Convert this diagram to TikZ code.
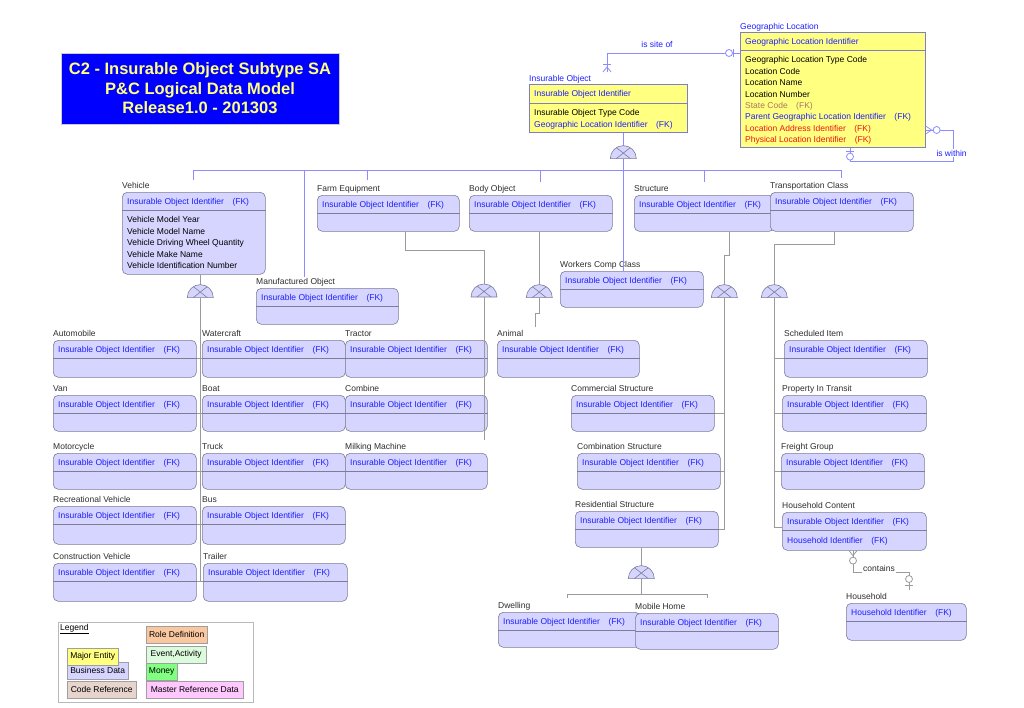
\documentclass[tikz,border=0pt]{standalone}
\usepackage{fontspec}
\setmainfont{Liberation Sans}
\usetikzlibrary{calc,positioning}

\definecolor{entfill}{RGB}{213,213,255}
\definecolor{entline}{RGB}{125,125,150}
\definecolor{yfill}{RGB}{255,255,128}
\definecolor{yline}{RGB}{125,125,200}
\definecolor{keyblue}{RGB}{30,30,255}
\definecolor{isablue}{RGB}{140,140,255}
\definecolor{gengray}{RGB}{155,155,155}
\definecolor{namegray}{RGB}{45,45,45}
\definecolor{titleblue}{RGB}{0,0,255}
\definecolor{titleyellow}{RGB}{255,255,128}
\definecolor{statebrown}{RGB}{170,120,95}
\definecolor{addrred}{RGB}{240,20,20}
\definecolor{codefill}{RGB}{230,212,205}
\definecolor{rolefill}{RGB}{250,200,160}
\definecolor{eventfill}{RGB}{220,250,220}
\definecolor{moneyfill}{RGB}{128,255,128}
\definecolor{masterfill}{RGB}{255,200,255}

\newcommand{\iok}{Insurable Object Identifier\quad(FK)}
% entity box: id, x, y, width, height, title, key
\newcommand{\ent}[7]{%
  \node[ebox, minimum width=#4pt, minimum height=#5pt] (#1) at (#2,#3) {};
  \node[ename] (#1-name) at ([yshift=3.5pt]#1.north west) {#6};
  \draw[ediv] ([yshift=-18pt]#1.north west) -- ([yshift=-18pt]#1.north east);
  \node[ekey] (#1-key) at ([xshift=5pt,yshift=-10pt]#1.north west) {#7};
}

\begin{document}
\begin{tikzpicture}[x=1pt, y=-1pt, font=\fontsize{8.5}{11.4}\selectfont,
    ebox/.style={draw=entline, fill=entfill, rounded corners=5pt, anchor=north west,
                 inner sep=0pt, line width=0.6pt},
    ybox/.style={draw=yline, fill=yfill, anchor=north west, inner sep=0pt, line width=0.6pt},
    ename/.style={anchor=base west, inner sep=0pt, text=namegray},
    ediv/.style={draw=entline, line width=0.6pt},
    ekey/.style={anchor=west, inner sep=0pt, text=keyblue},
    ebody/.style={anchor=north west, inner sep=0pt, align=left, text=black},
    isa/.style={draw=isablue, line width=0.8pt},
    gen/.style={draw=gengray, line width=0.8pt},
    rel/.style={draw=isablue, line width=0.8pt},
    rlabel/.style={inner sep=1pt, fill=white, text=keyblue},
    symb/.style={draw=entline, fill=entfill, line width=0.6pt},
    subsym/.pic={\draw[symb] (-13,0) arc[start angle=180, end angle=0, radius=13pt] -- cycle;
                 \draw[entline, line width=0.6pt] (-7,0) -- (7,-11) (7,0) -- (-7,-11);},
    titlebox/.style={fill=titleblue, draw=gray!40, text=titleyellow, align=center,
                     font=\fontsize{16.5}{19.5}\selectfont\bfseries,
                     minimum width=278pt, minimum height=71pt, inner sep=0pt},
    legframe/.style={draw=gray!55, anchor=north west, inner sep=0pt, line width=0.6pt},
    legkey/.style={draw=gray!75, anchor=north west, inner sep=1pt, minimum height=17pt, text=black}]
  \useasboundingbox (0,0) rectangle (1024,707);

  % title
  \node[titlebox] (title) at (200,88.5) {C2 - Insurable Object Subtype SA\\P\&C Logical Data Model\\Release1.0 - 201303};

  % major entities
  \node[ybox, minimum width=185pt, minimum height=115pt] (geo) at (740,32) {};
  \node[ename, text=keyblue] (geo-name) at ([yshift=3pt]geo.north west) {Geographic Location};
  \draw[ediv, draw=yline] ([yshift=-18pt]geo.north west) -- ([yshift=-18pt]geo.north east);
  \node[ekey] (geo-key) at ([xshift=5pt,yshift=-10pt]geo.north west) {Geographic Location Identifier};
  \node[ebody] (geo-body) at ([xshift=5pt,yshift=-24.5pt]geo.north west)
    {Geographic Location Type Code\\Location Code\\Location Name\\Location Number\\
     \textcolor{statebrown}{State Code\quad(FK)}\\
     \textcolor{keyblue}{Parent Geographic Location Identifier\quad(FK)}\\
     \textcolor{addrred}{Location Address Identifier\quad(FK)}\\
     \textcolor{addrred}{Physical Location Identifier\quad(FK)}};

  \node[ybox, minimum width=158pt, minimum height=48pt] (io) at (529,84) {};
  \node[ename, text=keyblue] (io-name) at ([yshift=3pt]io.north west) {Insurable Object};
  \draw[ediv, draw=yline] ([yshift=-19pt]io.north west) -- ([yshift=-19pt]io.north east);
  \node[ekey] (io-key) at ([xshift=5pt,yshift=-10pt]io.north west) {Insurable Object Identifier};
  \node[ebody] (io-body) at ([xshift=5pt,yshift=-25.5pt]io.north west)
    {Insurable Object Type Code\\\textcolor{keyblue}{Geographic Location Identifier\quad(FK)}};

  % first level subtypes
  \ent{veh}{122}{192}{143}{82}{Vehicle}{\iok}
  \node[ebody] (veh-body) at ([xshift=5pt,yshift=-24.5pt]veh.north west)
    {Vehicle Model Year\\Vehicle Model Name\\Vehicle Driving Wheel Quantity\\Vehicle Make Name\\Vehicle Identification Number};
  \ent{farm}{317}{195}{142}{36}{Farm Equipment}{\iok}
  \ent{body}{469}{195}{143}{36}{Body Object}{\iok}
  \ent{struct}{634}{195}{140}{36}{Structure}{\iok}
  \ent{trans}{770}{192}{143}{39}{Transportation Class}{\iok}
  \ent{manuf}{256}{288}{142}{36}{Manufactured Object}{\iok}
  \ent{wcc}{560}{271}{143}{36}{Workers Comp Class}{\iok}

  % vehicle subtypes
  \ent{auto}{53}{340}{143}{37}{Automobile}{\iok}
  \ent{van}{53}{395}{143}{36}{Van}{\iok}
  \ent{moto}{53}{453}{143}{36}{Motorcycle}{\iok}
  \ent{rv}{53}{506}{143}{38}{Recreational Vehicle}{\iok}
  \ent{cv}{53}{563}{143}{38}{Construction Vehicle}{\iok}
  \ent{water}{202}{340}{143}{37}{Watercraft}{\iok}
  \ent{boat}{202}{395}{143}{36}{Boat}{\iok}
  \ent{truck}{202}{453}{143}{36}{Truck}{\iok}
  \ent{bus}{202}{506}{143}{38}{Bus}{\iok}
  \ent{trailer}{203}{563}{144}{38}{Trailer}{\iok}

  % farm equipment subtypes
  \ent{tractor}{345}{340}{142}{37}{Tractor}{\iok}
  \ent{combine}{345}{395}{142}{36}{Combine}{\iok}
  \ent{milk}{345}{453}{142}{36}{Milking Machine}{\iok}

  % body object, structure, transportation subtypes
  \ent{animal}{497}{340}{142}{37}{Animal}{\iok}
  \ent{comm}{571}{395}{143}{36}{Commercial Structure}{\iok}
  \ent{combi}{577}{453}{143}{36}{Combination Structure}{\iok}
  \ent{resid}{575}{511}{143}{36}{Residential Structure}{\iok}
  \ent{sched}{784}{340}{143}{37}{Scheduled Item}{\iok}
  \ent{pit}{782}{395}{144}{36}{Property In Transit}{\iok}
  \ent{freight}{781}{453}{143}{36}{Freight Group}{\iok}
  \ent{hhc}{782}{512}{144}{38}{Household Content}{\iok}
  \node[ekey] (hhc-key2) at ([xshift=5pt,yshift=-29pt]hhc.north west) {Household Identifier\quad(FK)};
  \ent{dwell}{498}{612}{142}{35}{Dwelling}{\iok}
  \ent{mobile}{635}{613}{143}{36}{Mobile Home}{\iok}
  \ent{hh}{846}{603}{120}{37}{Household}{Household Identifier\quad(FK)}

  % insurable object hierarchy
  \coordinate (iosym) at ($(io.south)+(15,26)$);
  \coordinate (iobus) at ($(iosym)+(0,12)$);
  \draw[isa] (io.south -| iosym) -- ++(0,13);
  \draw[isa] (iosym) -- (wcc.north -| iosym);
  \draw[isa] ($(veh.north)+(0,-12)$) |- (trans.north |- iobus) -- ($(trans.north)+(0,-14)$);
  \draw[isa] ([xshift=-23pt]manuf.north |- iobus) -- ($(manuf.north)+(-23,-11)$);
  \draw[isa] ([xshift=-21pt]farm.north |- iobus) -- ($(farm.north)+(-21,-15)$);
  \draw[isa] (body.north |- iobus) -- ($(body.north)+(0,-13)$);
  \draw[isa] (struct.north |- iobus) -- ($(struct.north)+(0,-13)$);
  \pic at (iosym) {subsym};

  % vehicle
  \coordinate (vehsym) at ($(veh.south)+(6.5,23)$);
  \draw[gen] (veh.south -| vehsym) -- ++(0,10);
  \draw[gen] (vehsym) -- ($(vehsym |- cv.north)+(0,18)$);
  \draw[gen] ($(auto.north east)+(0,18)$) -- ($(water.north west)+(0,18)$);
  \draw[gen] ($(van.north east)+(0,18)$) -- ($(boat.north west)+(0,18)$);
  \draw[gen] ($(moto.north east)+(0,18)$) -- ($(truck.north west)+(0,18)$);
  \draw[gen] ($(rv.north east)+(0,18)$) -- ($(bus.north west)+(0,18)$);
  \draw[gen] ($(cv.north east)+(0,18)$) -- ($(trailer.north west)+(0,18)$);
  \pic at (vehsym) {subsym};

  % farm equipment
  \coordinate (farmsym) at ($(farm.north west)+(167,102)$);
  \draw[gen] ($(farm.south)+(17,0)$) -- ++(0,19) -| ($(farmsym)+(0,-13)$);
  \draw[gen] (farmsym) -- ($(farmsym |- combine.north)+(0,45)$);
  \pic at (farmsym) {subsym};

  % body object
  \coordinate (bodysym) at ($(body.south)+(-1.5,66)$);
  \draw[gen] (body.south -| bodysym) -- ++(0,53);
  \draw[gen] (bodysym) -- ++(0,16) -| ($(animal.north west)+(38,-13)$);
  \pic at (bodysym) {subsym};

  % structure
  \coordinate (structsym) at ($(struct.south)+(20,66)$);
  \draw[gen] ($(struct.south)+(25,0)$) -- ++(0,24) -| ($(structsym)+(0,-13)$);
  \draw[gen] (structsym) |- ($(resid.north east)+(0,18)$);
  \draw[gen] ($(comm.north east)+(0,18)$) -| (structsym);
  \draw[gen] ($(combi.north east)+(0,18)$) -| (structsym);
  \pic at (structsym) {subsym};

  % transportation class
  \coordinate (transsym) at ($(trans.south)+(-67.5,66)$);
  \draw[gen] ($(trans.south)+(-7.5,0)$) -- ++(0,13) -| ($(transsym)+(0,-13)$);
  \draw[gen] (transsym) |- ($(hhc.north west)+(0,15)$);
  \draw[gen] ($(sched.north west)+(0,18)$) -| (transsym);
  \draw[gen] ($(pit.north west)+(0,18)$) -| (transsym);
  \draw[gen] ($(freight.north west)+(0,18)$) -| (transsym);
  \pic at (transsym) {subsym};

  % residential structure
  \coordinate (residsym) at ($(resid.south)+(-5.5,31)$);
  \draw[gen] (resid.south -| residsym) -- ++(0,18);
  \draw[gen] (residsym) -- ++(0,16);
  \draw[gen] ($(dwell.north west)+(69,-14)$) |- ($(mobile.north west)+(72,-19)$) -- ($(mobile.north west)+(72,-15)$);
  \pic at (residsym) {subsym};

  % is site of
  \coordinate (siteio) at ($(io.north west)+(78,-12)$);
  \coordinate (sitegeo) at ($(geo.north west)+(0,21)$);
  \draw[rel] (sitegeo) -| (siteio);
  \draw[rel] ([xshift=-4pt]siteio) -- ++(4,-5) -- ++(4,5);
  \draw[rel] ($(siteio)+(-4,-8)$) -- ++(8,0);
  \draw[rel, fill=white] ($(sitegeo)+(-11,0)$) circle[radius=3.5pt];
  \draw[rel] ($(sitegeo)+(-7,-4)$) -- ++(0,8);
  \node[rlabel] (site-label) at ($(sitegeo)+(-83,-9)$) {is site of};

  % is within
  \coordinate (wingeo) at ($(geo.north east)+(0,98)$);
  \coordinate (winself) at ($(geo.south west)+(110,0)$);
  \draw[rel] (wingeo) -- ++(28,0) |- ($(winself)+(0,14)$) -- (winself);
  \draw[rel] ($(wingeo)+(0,-4)$) -- ++(6,4) -- ++(-6,4);
  \draw[rel, fill=white] ($(wingeo)+(11,0)$) circle[radius=3.5pt];
  \draw[rel, fill=white] ($(winself)+(0,9)$) circle[radius=3.5pt];
  \draw[rel] ($(winself)+(-4,4)$) -- ++(8,0);
  \node[rlabel] (within-label) at ($(wingeo)+(26,23)$) {is within};

  % contains
  \coordinate (conhhc) at ($(hhc.south west)+(71,0)$);
  \coordinate (conhh) at ($(hh.north west)+(63,-13)$);
  \draw[gen] (conhhc) -- ++(0,22) -| (conhh);
  \draw[gen] ($(conhhc)+(-4,0)$) -- ++(4,5) -- ++(4,-5);
  \draw[gen, fill=white] ($(conhhc)+(0,10)$) circle[radius=3.5pt];
  \draw[gen, fill=white] ($(conhh)+(0,-11)$) circle[radius=3.5pt];
  \draw[gen] ($(conhh)+(-4,-5)$) -- ++(8,0);
  \node[rlabel, text=namegray] (con-label) at ($(conhhc)+(26,18)$) {contains};

  % legend
  \node[legframe, minimum width=195pt, minimum height=80pt] (legend) at (58,622) {};
  \node[anchor=west, inner sep=0pt] (legend-title) at ([xshift=2pt,yshift=-7pt]legend.north west) {\underline{Legend}};
  \node[legkey, fill=entfill, minimum width=61pt] (leg-bus) at (67,662) {Business Data};
  \node[legkey, fill=yfill, minimum width=51pt] (leg-major) at (67,648) {Major Entity};
  \node[legkey, fill=codefill, minimum width=69pt] (leg-code) at (67,681) {Code Reference};
  \node[legkey, fill=rolefill, minimum width=61pt] (leg-role) at (146,626) {Role Definition};
  \node[legkey, fill=eventfill, minimum width=60pt] (leg-event) at (146,646) {Event,Activity};
  \node[legkey, fill=moneyfill, minimum width=31pt] (leg-money) at (146,663) {Money};
  \node[legkey, fill=masterfill, minimum width=97pt] (leg-master) at (146,681) {Master Reference Data};
\end{tikzpicture}
\end{document}
